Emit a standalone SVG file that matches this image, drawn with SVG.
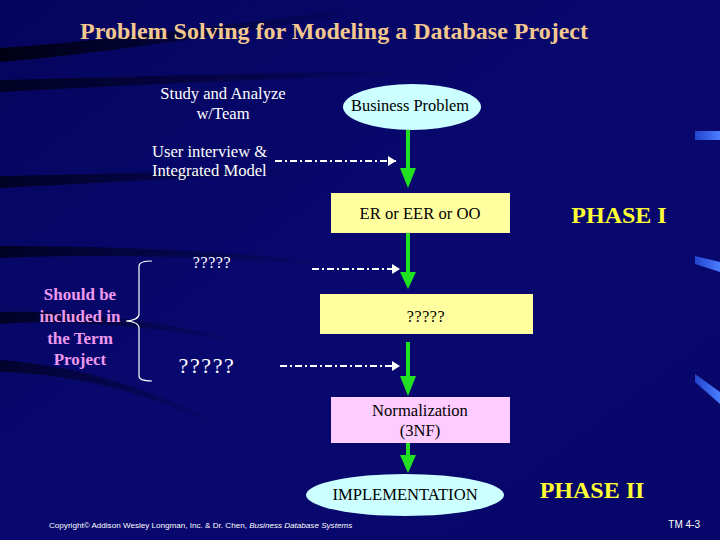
<svg xmlns="http://www.w3.org/2000/svg" width="720" height="540" viewBox="0 0 720 540">
<defs>
<style>
.w{fill:#ffffff}
.k{fill:#000000}
.lbl{font-size:16.6px}
.dash{stroke:#ffffff;stroke-width:2;fill:none;stroke-dasharray:7 3 2 3}
.green{stroke:#22e022;stroke-width:4;fill:none}
</style>
<marker id="wh" viewBox="0 0 8 10" refX="8" refY="5" markerWidth="8" markerHeight="10" markerUnits="userSpaceOnUse" orient="auto">
<polygon points="0,0 8,5 0,10" fill="#ffffff"/>
</marker>
<linearGradient id="bg" x1="0" y1="0" x2="1" y2="1">
<stop offset="0" stop-color="#05055e"/>
<stop offset="0.5" stop-color="#08086f"/>
<stop offset="1" stop-color="#06066a"/>
</linearGradient>
<linearGradient id="streak" x1="0" y1="0" x2="1" y2="0">
<stop offset="0" stop-color="#000010" stop-opacity="0.95"/>
<stop offset="1" stop-color="#000010" stop-opacity="0"/>
</linearGradient>
<linearGradient id="blue" x1="0" y1="0" x2="1" y2="0">
<stop offset="0" stop-color="#2244cc"/>
<stop offset="1" stop-color="#4a7dff"/>
</linearGradient>
</defs>

<g id="background">
<rect width="720" height="540" fill="url(#bg)"/>
<path d="M0,48 C120,40 260,20 360,8 L360,14 C260,28 120,52 0,62 Z" fill="url(#streak)"/>
<path d="M0,80 C150,76 300,72 420,70 L420,74 C300,78 150,84 0,92 Z" fill="url(#streak)" opacity="0.8"/>
<path d="M0,176 C120,174 220,170 300,168 L300,172 C220,176 120,182 0,188 Z" fill="url(#streak)" opacity="0.8"/>
<path d="M0,246 C100,246 220,250 330,262 L330,266 C220,256 100,254 0,258 Z" fill="url(#streak)" opacity="0.8"/>
<path d="M0,312 C60,310 150,318 240,340 L240,344 C150,324 60,320 0,324 Z" fill="url(#streak)" opacity="0.8"/>
<path d="M0,360 C80,366 160,390 230,430 L226,432 C160,396 80,374 0,372 Z" fill="url(#streak)" opacity="0.7"/>
<polygon points="695,131 720,131 720,140 695,140" fill="url(#blue)"/>
<polygon points="695,256 720,262 720,272 695,264" fill="url(#blue)"/>
<polygon points="695,374 720,392 720,404 695,382" fill="url(#blue)"/>
</g>

<g font-family="'Liberation Serif', 'Times New Roman', serif">

<text id="title" x="334" y="39" text-anchor="middle" font-size="24" font-weight="bold" fill="#f3c88e">Problem Solving for Modeling a Database Project</text>

<g id="connectors">
<line class="green" x1="408" y1="130" x2="408" y2="170"/>
<polygon points="400,168 416,168 408,188" fill="#22e022"/>
<line class="green" x1="408" y1="233" x2="408" y2="274"/>
<polygon points="400,272 416,272 408,289" fill="#22e022"/>
<line class="green" x1="408" y1="342" x2="408" y2="378"/>
<polygon points="400,376 416,376 408,396" fill="#22e022"/>
<line class="green" x1="408" y1="443" x2="408" y2="457"/>
<polygon points="400,455 416,455 408,473" fill="#22e022"/>
<line class="dash" x1="275" y1="161" x2="396" y2="161" marker-end="url(#wh)"/>
<line class="dash" x1="312" y1="269" x2="400" y2="269" marker-end="url(#wh)"/>
<line class="dash" x1="280" y1="366" x2="400" y2="366" marker-end="url(#wh)"/>
<path d="M152,261 Q139,261 139,266 L139,314 Q139,320 126,321 Q139,322 139,328 L139,376 Q139,381 152,381" stroke="#ffffff" stroke-width="1.2" fill="none"/>
</g>

<g id="business-problem">
<ellipse cx="412" cy="107" rx="69" ry="23" fill="#ccffff"/>
<text class="k" x="410" y="111" text-anchor="middle" font-size="16.4">Business Problem</text>
</g>

<g id="study-analyze">
<text class="w lbl" x="223" y="99" text-anchor="middle">Study and Analyze</text>
<text class="w lbl" x="223" y="119" text-anchor="middle">w/Team</text>
</g>

<g id="user-interview">
<text class="w lbl" x="152" y="157">User interview &amp;</text>
<text class="w lbl" x="152" y="176">Integrated Model</text>
</g>

<g id="er-box">
<rect x="331" y="193" width="179" height="40" fill="#ffffa0"/>
<text class="k lbl" x="420" y="219" text-anchor="middle">ER or EER or OO</text>
</g>

<g id="phase-1">
<text x="619" y="223" text-anchor="middle" font-size="24" font-weight="bold" fill="#ffff33">PHASE I</text>
</g>

<g id="q-small">
<text class="w" x="212" y="268" text-anchor="middle" font-size="16" letter-spacing="0.6">?????</text>
</g>

<g id="q-box">
<rect x="320" y="294" width="213" height="40" fill="#ffffa0"/>
<text class="k" x="426" y="322" text-anchor="middle" font-size="16" letter-spacing="0.6">?????</text>
</g>

<g id="q-large">
<text class="w" x="207" y="373" text-anchor="middle" font-size="22" letter-spacing="1.6">?????</text>
</g>

<g id="term-project" font-size="17" font-weight="bold" fill="#ee99ee" text-anchor="middle">
<text x="80" y="300">Should be</text>
<text x="80" y="322">included in</text>
<text x="80" y="344">the Term</text>
<text x="80" y="365">Project</text>
</g>

<g id="normalization">
<rect x="331" y="397" width="179" height="46" fill="#ffccff"/>
<text class="k lbl" x="420" y="416" text-anchor="middle">Normalization</text>
<text class="k lbl" x="420" y="436" text-anchor="middle">(3NF)</text>
</g>

<g id="implementation">
<ellipse cx="405" cy="495" rx="99" ry="21" fill="#ccffff"/>
<text class="k lbl" x="405" y="500" text-anchor="middle">IMPLEMENTATION</text>
</g>

<g id="phase-2">
<text x="592" y="498" text-anchor="middle" font-size="24" font-weight="bold" fill="#ffff33">PHASE II</text>
</g>

</g>

<g id="footer" font-family="'Liberation Sans', Arial, sans-serif" fill="#ffffff">
<text x="49" y="528" font-size="8.1">Copyright© Addison Wesley Longman, Inc. &amp; Dr. Chen, <tspan font-style="italic">Business Database Systems</tspan></text>
<text x="700" y="528" text-anchor="end" font-size="10">TM 4-3</text>
</g>
</svg>
